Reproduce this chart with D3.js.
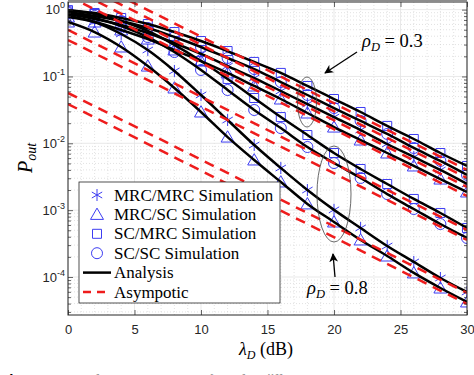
<!DOCTYPE html>
<html>
<head>
<meta charset="utf-8">
<script src="https://cdn.jsdelivr.net/npm/d3@7"></script>
<style>
  html, body { margin:0; padding:0; background:#fff; overflow:hidden; }
  svg { display:block; }
  .tk text { font-family:"Liberation Sans", Arial, sans-serif; font-size:13px; fill:#262626; }
  .serif { font-family:"Liberation Serif", "Times New Roman", serif; fill:#000; }
</style>
</head>
<body>
<svg id="chart" width="474" height="375"></svg>
<script>
// x positions of simulation / analysis points (dB)
const xdB = [0, 2, 4, 6, 8, 10, 12, 14, 16, 18, 20, 22, 24, 26, 28, 30];

// rho_D = 0.3
const r3_SCMRC  = [0.98, 0.890, 0.749, 0.609, 0.462, 0.339, 0.240, 0.165, 0.113, 0.0720, 0.0460, 0.0294, 0.0182, 0.0116, 0.00716, 0.00458];
const r3_SCSC   = [0.921, 0.803, 0.675, 0.531, 0.389, 0.276, 0.189, 0.129, 0.0826, 0.0528, 0.0337, 0.0216, 0.0138, 0.00851, 0.00544, 0.00336];
const r3_MRCMRC = [0.860, 0.724, 0.589, 0.447, 0.317, 0.217, 0.143, 0.0948, 0.0606, 0.0387, 0.0247, 0.0158, 0.00976, 0.00624, 0.00399, 0.00246];
const r3_MRCSC  = [0.775, 0.653, 0.496, 0.363, 0.249, 0.170, 0.113, 0.0720, 0.0460, 0.0284, 0.0175, 0.0112, 0.00716, 0.00458, 0.00292, 0.00187];
// rho_D = 0.8
const r8_SCMRC  = [0.97, 0.860, 0.675, 0.479, 0.296, 0.170, 0.0917, 0.0476, 0.0247, 0.0133, 0.00716, 0.00413, 0.00246, 0.00147, 0.000907, 0.000541];
const r8_SCSC   = [0.890, 0.749, 0.569, 0.389, 0.232, 0.125, 0.0627, 0.0315, 0.0169, 0.00880, 0.00507, 0.00303, 0.00174, 0.00104, 0.000620, 0.000383];
const r8_MRCMRC = [0.803, 0.653, 0.432, 0.249, 0.121, 0.0528, 0.0223, 0.00943, 0.00427, 0.00200, 0.00101, 0.000541, 0.000291, 0.000168, 0.0000966, 0.0000596];
const r8_MRCSC  = [0.653, 0.462, 0.276, 0.143, 0.0672, 0.0294, 0.0124, 0.00563, 0.00264, 0.00124, 0.000665, 0.000358, 0.000206, 0.000115, 0.0000684, 0.0000423];

// asymptotic lines, value at 0 dB and at 30 dB
const asymX = [0, 30];
const asym = [
  [3.91, 0.00399], [2.97, 0.00303], [2.18, 0.00222], [1.60, 0.00163],
  [0.496, 0.000505], [0.351, 0.000358], [0.0566, 0.0000576], [0.0387, 0.0000395]
];

const yTicks = [1e-4, 1e-3, 1e-2, 1e-1, 1];
const yTickExp = ["-4", "-3", "-2", "-1", "0"];
const xTicks = [0, 5, 10, 15, 20, 25, 30];

const series = [
  { vals: r3_SCMRC, mk: "square" }, { vals: r3_SCSC, mk: "circle" },
  { vals: r3_MRCMRC, mk: "star" }, { vals: r3_MRCSC, mk: "triangle" },
  { vals: r8_SCMRC, mk: "square" }, { vals: r8_SCSC, mk: "circle" },
  { vals: r8_MRCMRC, mk: "star" }, { vals: r8_MRCSC, mk: "triangle" }
];

const legendItems = [
  { label: "MRC/MRC Simulation", mk: "star" },
  { label: "MRC/SC Simulation", mk: "triangle" },
  { label: "SC/MRC Simulation", mk: "square" },
  { label: "SC/SC Simulation", mk: "circle" },
  { label: "Analysis", line: "solid" },
  { label: "Asympotic", line: "dash" }
];

const blue = "#3d3df2";
const L = 68, R = 467, T = 2, B = 315;
const x = d3.scaleLinear().domain([0, 30]).range([L, R]);
const y = d3.scaleLog().domain([2.7e-5, 1.3]).range([B, T]);

const svg = d3.select("#chart");

// marker shapes
function markerPath(t) {
  if (t === "square") return "M-4.5,-4.5h9v9h-9z";
  if (t === "circle") return d3.symbol(d3.symbolCircle, Math.PI * 5.5 * 5.5)();
  if (t === "triangle") return "M0,-6.3L6.5,5L-6.5,5Z";
  // asterisk: vertical + two diagonals
  const r = 6, a = r * Math.cos(Math.PI / 6), b = r * Math.sin(Math.PI / 6);
  return `M0,${-r}V${r}M${-a},${-b}L${a},${b}M${-a},${b}L${a},${-b}`;
}

// grid
const grid = svg.append("g");
const minorY = [];
for (let k = -5; k <= 0; k++) for (let m = 2; m <= 9; m++) {
  const v = m * Math.pow(10, k);
  if (v > 2.7e-5 && v < 1.3) minorY.push(v);
}
grid.selectAll(".my").data(minorY).enter().append("line")
  .attr("x1", L).attr("x2", R).attr("y1", d => y(d)).attr("y2", d => y(d))
  .attr("stroke", "#cfcfcf").attr("stroke-width", 0.6).attr("stroke-dasharray", "1,2");
grid.selectAll(".mx").data(d3.range(1, 30).filter(d => d % 5)).enter().append("line")
  .attr("y1", T).attr("y2", B).attr("x1", d => x(d)).attr("x2", d => x(d))
  .attr("stroke", "#cfcfcf").attr("stroke-width", 0.6).attr("stroke-dasharray", "1,2");
grid.selectAll(".gy").data(yTicks).enter().append("line")
  .attr("x1", L).attr("x2", R).attr("y1", d => y(d)).attr("y2", d => y(d))
  .attr("stroke", "#e3e3e3").attr("stroke-width", 0.8);
grid.selectAll(".gx").data(xTicks).enter().append("line")
  .attr("y1", T).attr("y2", B).attr("x1", d => x(d)).attr("x2", d => x(d))
  .attr("stroke", "#e3e3e3").attr("stroke-width", 0.8);

svg.append("clipPath").attr("id", "clip").append("rect")
  .attr("x", L).attr("y", T).attr("width", R - L).attr("height", B - T);
const plot = svg.append("g").attr("clip-path", "url(#clip)");

// simulation markers
series.forEach(s => {
  plot.append("g").selectAll("path").data(s.vals).enter().append("path")
    .attr("transform", (d, i) => `translate(${x(xdB[i])},${y(d)})`)
    .attr("d", markerPath(s.mk))
    .attr("fill", "none").attr("stroke", blue).attr("stroke-width", 1);
});

// analysis curves
const line = d3.line().x((d, i) => x(xdB[i])).y(d => y(d)).curve(d3.curveMonotoneX);
series.forEach(s => {
  plot.append("path").attr("d", line(s.vals))
    .attr("fill", "none").attr("stroke", "#000").attr("stroke-width", 2.5);
});

// asymptotes
const aline = d3.line().x((d, i) => x(asymX[i])).y(d => y(d));
asym.forEach(a => {
  plot.append("path").attr("d", aline(a))
    .attr("fill", "none").attr("stroke", "#ee1c1c").attr("stroke-width", 2.5)
    .attr("stroke-dasharray", "10,7");
});

// axes
const axisColor = "#262626";
const yMinorTicks = minorY;
const gy = svg.append("g").attr("class", "tk").attr("transform", `translate(${L},0)`)
  .call(d3.axisLeft(y).tickValues(yTicks).tickSize(-5).tickPadding(3).tickFormat(""));
gy.selectAll("text").each(function(d, i) {
  const t = d3.select(this);
  t.text(null);
  t.append("tspan").text("10");
  t.append("tspan").attr("dy", -6).attr("font-size", 9).text(yTickExp[i]);
});
gy.append("g").call(d3.axisLeft(y).tickValues(yMinorTicks).tickSize(-3).tickFormat(""));
const gyr = svg.append("g").attr("transform", `translate(${R},0)`)
  .call(d3.axisRight(y).tickValues(yTicks).tickSize(-5).tickFormat(""));
gyr.append("g").call(d3.axisRight(y).tickValues(yMinorTicks).tickSize(-3).tickFormat(""));

const gx = svg.append("g").attr("class", "tk").attr("transform", `translate(0,${B})`)
  .call(d3.axisBottom(x).tickValues(xTicks).tickSize(-5).tickPadding(10).tickFormat(d3.format("d")));
svg.append("g").attr("transform", `translate(0,${T})`)
  .call(d3.axisTop(x).tickValues(xTicks).tickSize(-5).tickFormat(""));

svg.selectAll(".domain").remove();
svg.selectAll(".tick line").attr("stroke", axisColor).attr("stroke-width", 0.7);
svg.append("rect").attr("x", L).attr("y", T).attr("width", R - L).attr("height", B - T)
  .attr("fill", "none").attr("stroke", axisColor).attr("stroke-width", 1);
svg.append("line").attr("x1", L).attr("x2", R).attr("y1", 1).attr("y2", 1)
  .attr("stroke", "#8c8c8c").attr("stroke-width", 2);

// axis labels
const ylab = svg.append("text").attr("class", "serif")
  .attr("transform", "translate(32,158) rotate(-90)").attr("text-anchor", "middle")
  .attr("font-style", "italic").attr("font-size", 20);
ylab.append("tspan").text("P");
ylab.append("tspan").attr("dy", 4).attr("font-size", 14).text("out");

const xlab = svg.append("text").attr("class", "serif")
  .attr("x", 266).attr("y", 355).attr("text-anchor", "middle").attr("font-size", 18);
xlab.append("tspan").attr("font-style", "italic").text("λ");
xlab.append("tspan").attr("dy", 4).attr("font-size", 12).attr("font-style", "italic").text("D");
xlab.append("tspan").attr("dy", -4).text(" (dB)");

// ellipses and annotations
svg.append("ellipse").attr("cx", 307).attr("cy", 102).attr("rx", 9.5).attr("ry", 25)
  .attr("fill", "none").attr("stroke", "#444").attr("stroke-width", 0.8);
svg.append("ellipse").attr("cx", 334).attr("cy", 194).attr("rx", 17).attr("ry", 48)
  .attr("fill", "none").attr("stroke", "#444").attr("stroke-width", 0.8);

svg.append("defs").append("marker").attr("id", "ah")
  .attr("viewBox", "0 0 10 10").attr("refX", 9).attr("refY", 5)
  .attr("markerWidth", 9).attr("markerHeight", 9).attr("markerUnits", "userSpaceOnUse")
  .attr("orient", "auto")
  .append("path").attr("d", "M0,0L10,5L0,10L3,5Z").attr("fill", "#000");
svg.append("line").attr("x1", 357).attr("y1", 52).attr("x2", 325).attr("y2", 73)
  .attr("stroke", "#000").attr("stroke-width", 1.3).attr("marker-end", "url(#ah)");
svg.append("line").attr("x1", 335).attr("y1", 277).attr("x2", 333).attr("y2", 254)
  .attr("stroke", "#000").attr("stroke-width", 1.3).attr("marker-end", "url(#ah)");

function rhoText(px, py, val) {
  const t = svg.append("text").attr("class", "serif").attr("x", px).attr("y", py).attr("font-size", 18.5);
  t.append("tspan").attr("font-style", "italic").text("ρ");
  t.append("tspan").attr("dy", 4).attr("font-size", 12.5).attr("font-style", "italic").text("D");
  t.append("tspan").attr("dy", -4).text(" = " + val);
}
rhoText(362, 47, "0.3");
rhoText(307, 294, "0.8");

// legend
const lg = svg.append("g");
lg.append("rect").attr("x", 79).attr("y", 182).attr("width", 201).attr("height", 121)
  .attr("fill", "#fff").attr("stroke", axisColor).attr("stroke-width", 0.8);
legendItems.forEach((it, i) => {
  const cy = 195 + i * 19.4;
  if (it.mk) {
    lg.append("path").attr("transform", `translate(97,${cy})`).attr("d", markerPath(it.mk))
      .attr("fill", "none").attr("stroke", blue).attr("stroke-width", 1);
  } else {
    lg.append("line").attr("x1", 83).attr("x2", 111).attr("y1", cy).attr("y2", cy)
      .attr("stroke", it.line === "solid" ? "#000" : "#ee1c1c").attr("stroke-width", 2.5)
      .attr("stroke-dasharray", it.line === "solid" ? null : "8,6");
  }
  lg.append("text").attr("class", "serif").attr("x", 114).attr("y", cy + 5.5)
    .attr("font-size", 17).text(it.label);
});

// caption (cut off at the bottom, as in the source figure)
const cap = svg.append("text").attr("x", 0).attr("y", 385)
  .attr("font-family", "Liberation Sans, Arial, sans-serif").attr("font-size", 15);
cap.append("tspan").attr("font-weight", "bold").text("Fig. 3.");
cap.append("tspan").attr("fill", "#999").text("  OP performance versus λ_D for different ρ_D.");
</script>
</body>
</html>
